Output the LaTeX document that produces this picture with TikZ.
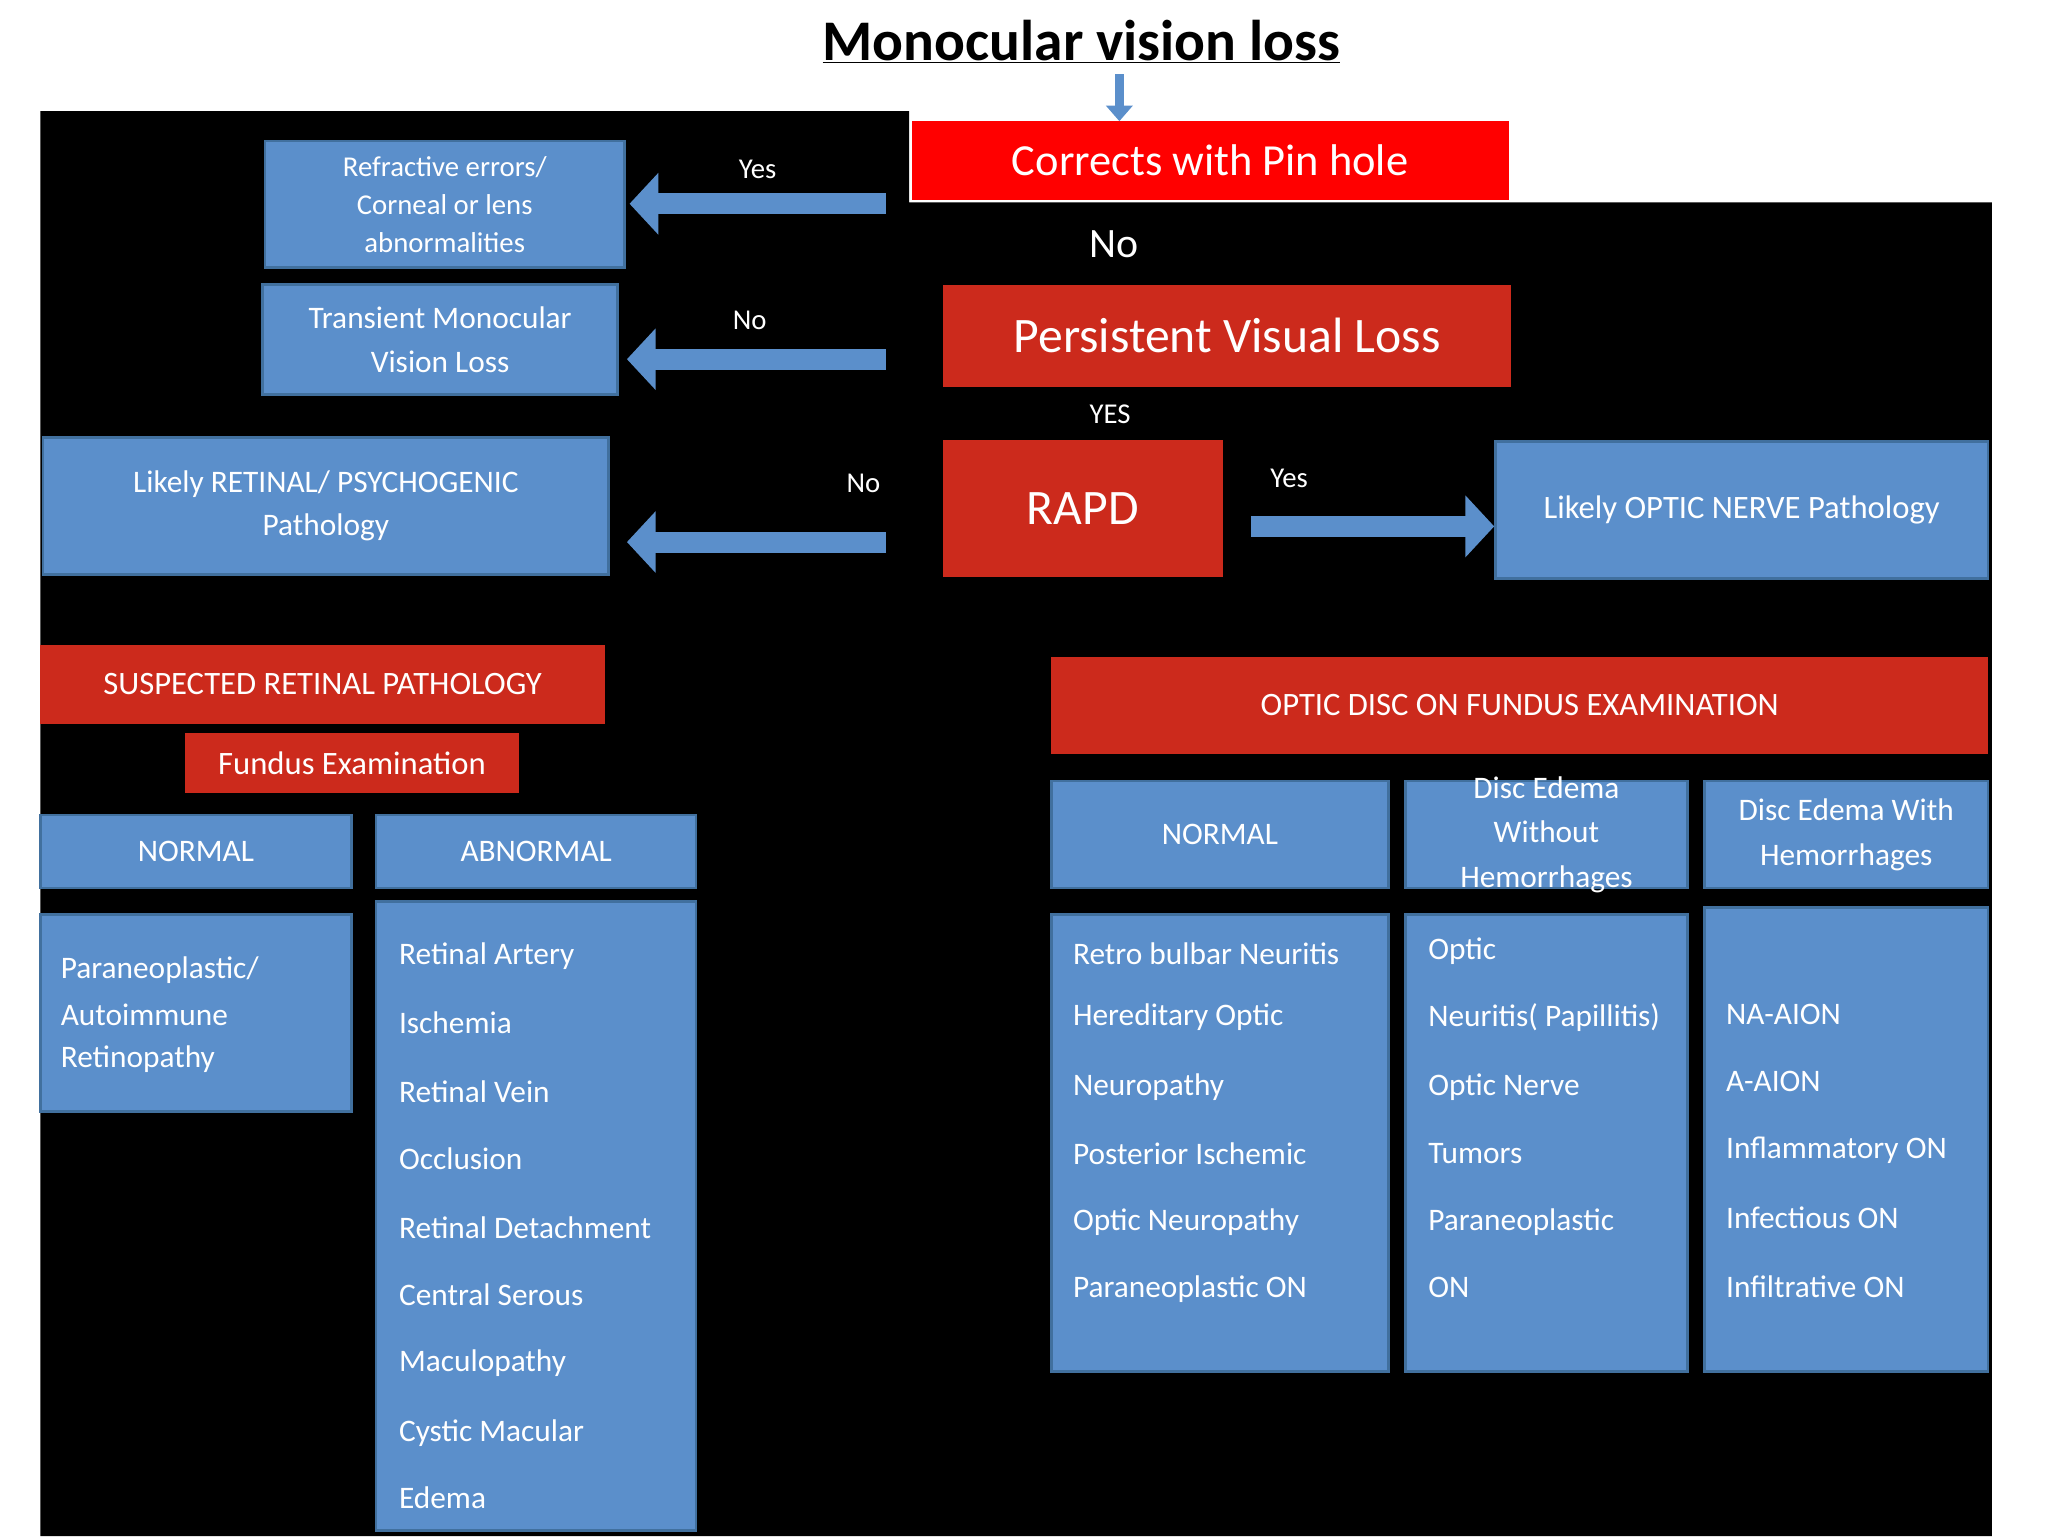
\documentclass[tikz,border=0pt]{standalone}
\usepackage{fontspec}
\setmainfont{Carlito}
\usetikzlibrary{fit,arrows.meta}
\definecolor{bl}{HTML}{5B8FCB}
\definecolor{blb}{HTML}{41709E}
\definecolor{rd}{HTML}{CC2A1C}
\tikzset{
 bbox/.style={fill=bl,draw=blb,line width=2pt,inner sep=0pt,text=white,align=center,font=\fontsize{23}{34}\selectfont},
 rbox/.style={fill=rd,draw=none,inner sep=0pt,text=white,align=center,font=\fontsize{23}{30}\selectfont},
 lab/.style={text=white,font=\fontsize{22}{26}\selectfont},
 item/.style={text=white,anchor=west,font=\fontsize{24}{28}\selectfont},
 barrow/.style={draw=bl,line width=16pt,-{Triangle[length=22pt,width=46pt]}},
}
\begin{document}
\begin{tikzpicture}[x=1pt,y=-1pt]
\useasboundingbox (0,0) rectangle (1568,1176);
\fill[black] (31,85)--(696,85)--(696,155)--(1525,155)--(1525,1176)--(31,1176)--cycle;
\node[font=\bfseries\fontsize{44}{50}\selectfont] (title) at (828,32) {\underline{Monocular vision loss}};
\node[fill=red,inner sep=0pt,fit={(698,93)(1155,153)}] (pin) {};
\node[text=white,font=\fontsize{34}{40}\selectfont] at (pin) {Corrects with Pin hole};
\draw[draw=bl,line width=7pt,-{Triangle[length=12pt,width=20pt]}] (857,57) -- (pin.north -| 857,0);
\node[text=white,font=\fontsize{32}{36}\selectfont] (no0) at (853,187) {No};
% left column
\node[bbox,fit={(203,108)(478,205)}] (ref) {};
\node[text=white,align=center,font=\fontsize{22}{29}\selectfont] at (ref) {Refractive errors/\\Corneal or lens\\abnormalities};
\node[bbox,fit={(201,218)(473,302)}] (tra) {};
\node[text=white,align=center,font=\fontsize{24}{34}\selectfont] at (tra) {Transient Monocular\\Vision Loss};
\node[bbox,fit={(33,335)(466,440)}] (ret) {};
\node[text=white,align=center,font=\fontsize{24}{33}\selectfont] at (ret) {Likely RETINAL/ PSYCHOGENIC\\Pathology};
\coordinate (a1) at (678,156); \coordinate (a2) at (678,275); \coordinate (a3) at (678,415);
\draw[barrow] (a1) -- (482,156);
\draw[barrow] (a2) -- (480,275);
\draw[barrow] (a3) -- (480,415);
\node[lab] at (580,130) {Yes};
\node[lab] at (574,245) {No};
\node[lab] at (661,370) {No};
% middle
\node[rbox,fit={(722,218)(1157,296)}] (per) {};
\node[text=white,font=\fontsize{38}{42}\selectfont] at (per) {Persistent Visual Loss};
\node[lab] at (850,317) {YES};
\node[rbox,fit={(722,337)(936,442)}] (rapd) {};
\node[text=white,font=\fontsize{38}{42}\selectfont] at (rapd) {RAPD};
\node[bbox,fit={(1145,338)(1522,443)}] (opt) {};
\node[text=white,font=\fontsize{25}{30}\selectfont] at (opt) {Likely OPTIC NERVE Pathology};
\coordinate (a4) at (958,403);
\draw[barrow] (a4) -- (opt.west |- a4);
\node[lab] at (987,366) {Yes};
% retinal pathology
\node[rbox,fit={(31,494)(463,554)}] (sus) {};
\node[text=white,font=\fontsize{25}{30}\selectfont] at (sus) {SUSPECTED RETINAL PATHOLOGY};
\node[rbox,fit={(142,561)(397,607)}] (fun) {};
\node[text=white,font=\fontsize{25}{30}\selectfont] at (fun) {Fundus Examination};
\node[bbox,fit={(31,624)(269,680)}] (n1) {};
\node[text=white,font=\fontsize{24}{30}\selectfont] at (n1) {NORMAL};
\node[bbox,fit={(288,624)(533,680)}] (ab) {};
\node[text=white,font=\fontsize{24}{30}\selectfont] at (ab) {ABNORMAL};
\node[bbox,fit={(31,700)(269,851)}] (pb) {};
\node[item] (p1) at (43,743) {Paraneoplastic/};
\node[item] (p2) at (43,777) {Autoimmune};
\node[item] (p3) at (43,811) {Retinopathy};
\node[bbox,fit={(288,690)(533,1172)}] (abl) {};
\foreach \t/\y in {Retinal Artery/732,Ischemia/783,Retinal Vein/836,Occlusion/887,Retinal Detachment/940,Central Serous/991,Maculopathy/1044,Cystic Macular/1097,Edema/1147}
  \node[item] at (302,\y) {\t};
% optic disc
\node[rbox,fit={(805,503)(1522,577)}] (od) {};
\node[text=white,font=\fontsize{25}{30}\selectfont] at (od) {OPTIC DISC ON FUNDUS EXAMINATION};
\node[bbox,fit={(805,598)(1063,680)}] (n2) {};
\node[text=white,font=\fontsize{24}{30}\selectfont] at (n2) {NORMAL};
\node[bbox,fit={(1076,598)(1292,680)}] (dw) {};
\node[text=white,align=center,font=\fontsize{24}{34}\selectfont] at (dw) {Disc Edema\\Without\\Hemorrhages};
\node[bbox,fit={(1305,598)(1522,680)}] (dh) {};
\node[text=white,align=center,font=\fontsize{24}{34}\selectfont] at (dh) {Disc Edema With\\Hemorrhages};
\node[bbox,fit={(805,700)(1063,1050)}] (l1) {};
\node[bbox,fit={(1076,700)(1292,1050)}] (l2) {};
\node[bbox,fit={(1305,695)(1522,1050)}] (l3) {};
\foreach \t/\y in {Retro bulbar Neuritis/730,Hereditary Optic/779,Neuropathy/832,Posterior Ischemic/883,Optic Neuropathy/936,Paraneoplastic ON/987}
  \node[item] at (818,\y) {\t};
\foreach \t/\y in {Optic/728,Neuritis( Papillitis)/779,Optic Nerve/832,Tumors/883,Paraneoplastic/936,ON/986}
  \node[item] at (1090,\y) {\t};
\foreach \t/\y in {NA-AION/777,A-AION/828,Inflammatory ON/881,Infectious ON/932,Infiltrative ON/985}
  \node[item] at (1318,\y) {\t};
\end{tikzpicture}
\end{document}
